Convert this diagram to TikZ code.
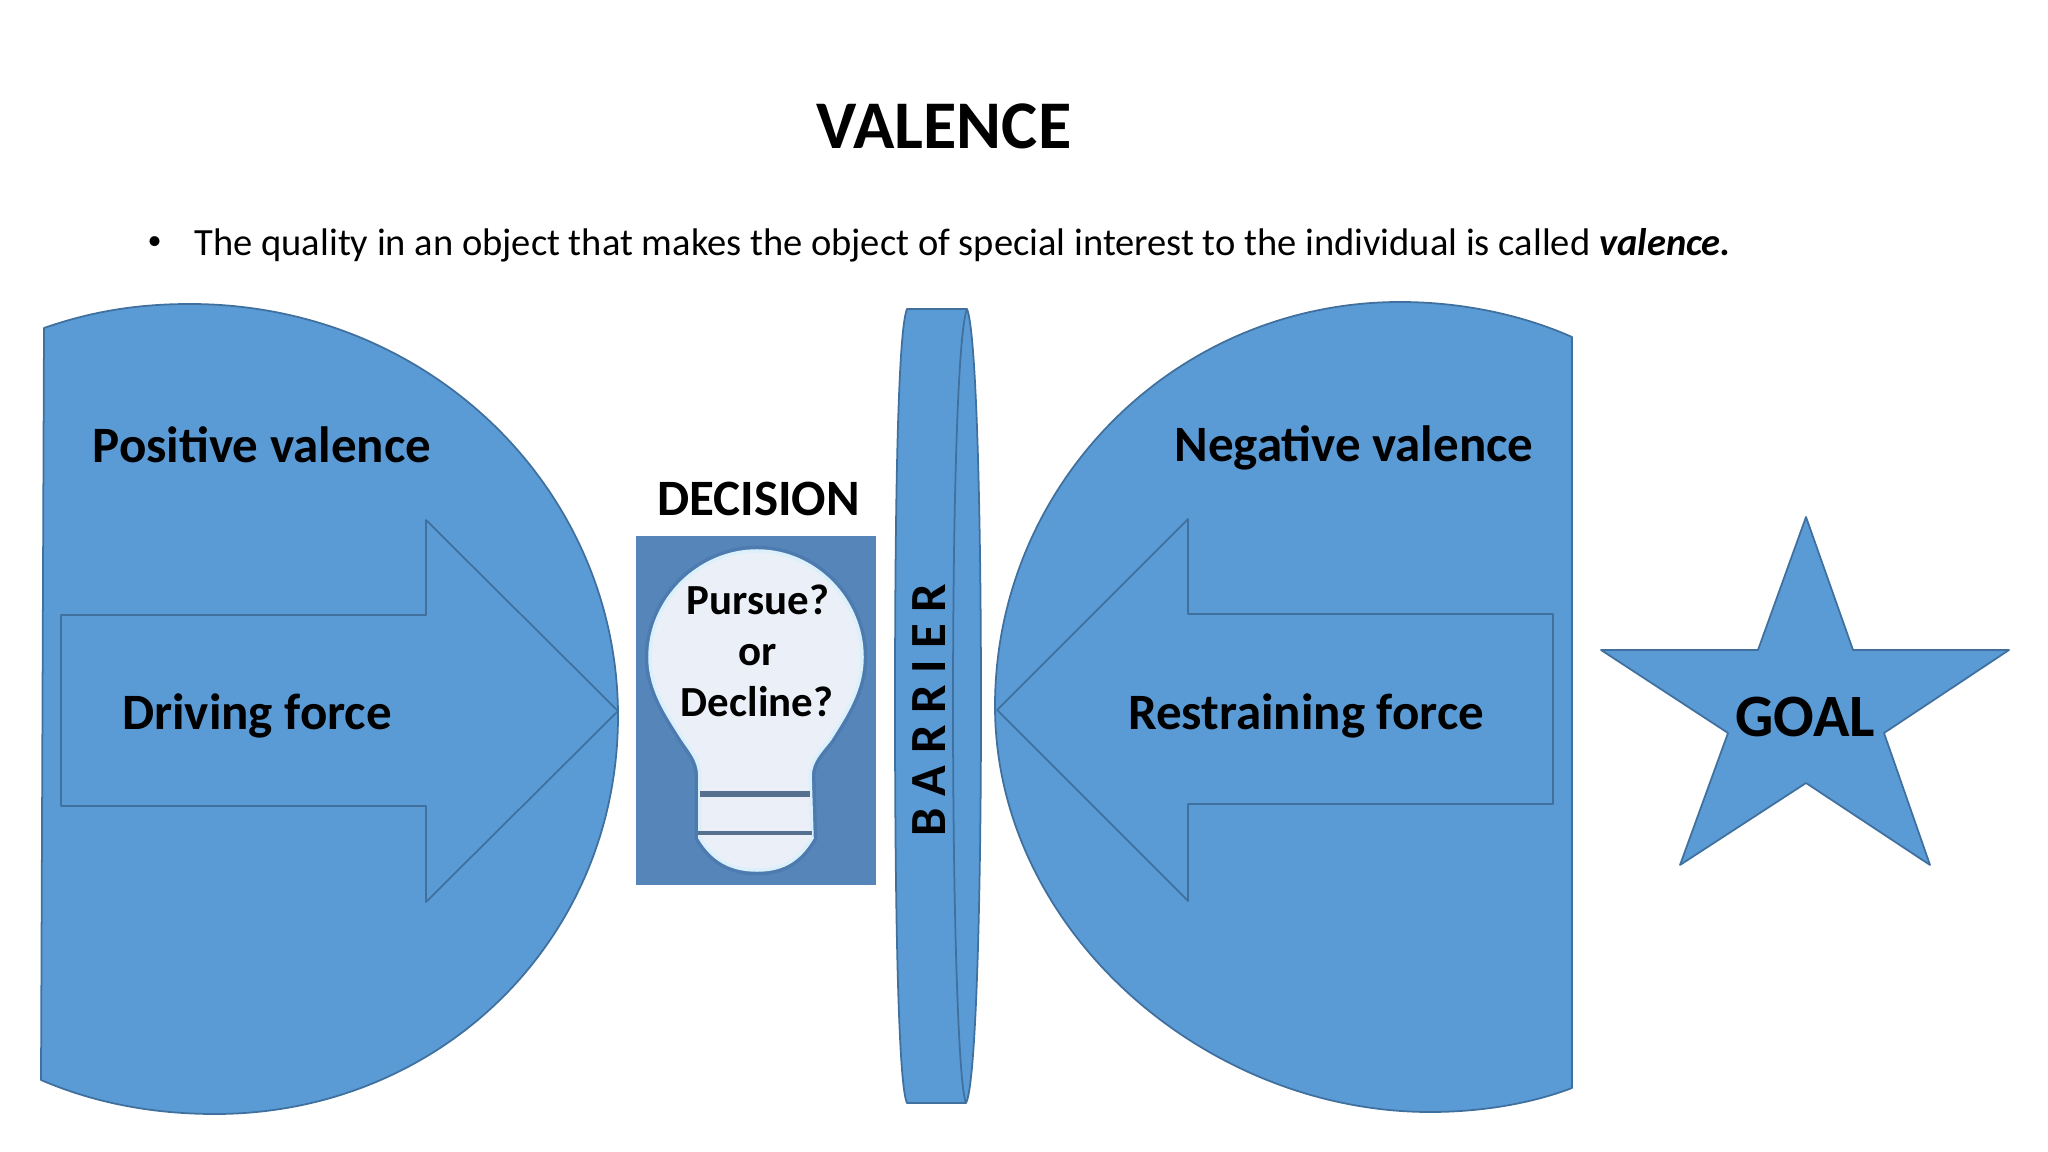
\documentclass[tikz,border=0pt]{standalone}
\usepackage{fontspec}
\setmainfont{Carlito}
\usetikzlibrary{positioning}
\definecolor{shapeblue}{HTML}{5B9BD5}
\definecolor{shapeline}{HTML}{3F709E}
\definecolor{photoblue}{HTML}{5585B9}
\definecolor{photohalo}{HTML}{4D7BB0}
\definecolor{bulbwhite}{HTML}{EBF0F8}
\definecolor{bulbedge}{HTML}{DCF0FC}
\definecolor{bulbline}{HTML}{56718F}

\begin{document}
\begin{tikzpicture}[
x=0.01cm, y=-0.01cm,
blue shape/.style={draw=shapeline, fill=shapeblue, line width=0.5pt, line join=round},
label/.style={inner sep=0pt, font=\fontsize{14.5}{17}\selectfont\bfseries},
small label/.style={inner sep=0pt, font=\fontsize{12.2}{14}\selectfont\bfseries}
]
\useasboundingbox (0,0) rectangle (2048,1152);

% heading
\node[inner sep=0pt, font=\fontsize{19.4}{22}\selectfont\bfseries] (title) at (944,126) {VALENCE};
\node[inner sep=0pt, anchor=west, font=\fontsize{8}{13}\selectfont] (bullet) at (147,243) {•};
\node[inner sep=0pt, anchor=west, font=\fontsize{10.95}{13}\selectfont] (definition) at (194,245) {The quality in an object that makes the object of special interest to the individual is called \textbf{\textit{valence.}}};

% left half circle
\draw[blue shape] (44,328) .. controls (90,312) and (135,304) .. (190,304)
  .. controls (430,304) and (618,490) .. (618,716)
  .. controls (618,940) and (440,1114) .. (215,1114)
  .. controls (150,1114) and (92,1102) .. (41,1080) -- cycle;
\draw[blue shape] (61,615) -- (426,615) -- (426,520) -- (618,711) -- (426,902) -- (426,806) -- (61,806) -- cycle;
\node[label] (positive) at (262,445) {Positive valence};
\node[label] (driving) at (257,716) {Driving force};

% right half circle
\draw[blue shape] (1572,337) .. controls (1520,314) and (1460,302) .. (1400,302)
  .. controls (1175,302) and (995,484) .. (995,706)
  .. controls (995,930) and (1205,1112) .. (1430,1112)
  .. controls (1480,1112) and (1530,1104) .. (1572,1088) -- cycle;
\draw[blue shape] (1553,614) -- (1188,614) -- (1188,519) -- (997,710) -- (1188,901) -- (1188,804) -- (1553,804) -- cycle;
\node[label] (negative) at (1354,448) {Negative valence};
\node[label] (restraining) at (1306,716) {Restraining force};

% picture with the bulb
\node[minimum width=2.4cm, minimum height=3.49cm, inner sep=0pt, fill=photoblue] (photo) at (756,710.5) {};
\node[label, above=5.4pt of photo, xshift=0.7pt] (decision) {DECISION};
\draw[draw=photohalo, line width=3pt] (757,551)
  .. controls (815,551) and (862,600) .. (862,657)
  .. controls (862,690) and (845,715) .. (830,739)
  .. controls (820,752) and (811,760) .. (810,775)
  -- (812,838) .. controls (800,858) and (785,870) .. (757,870)
  .. controls (729,870) and (712,858) .. (700,838)
  -- (700,775) .. controls (699,760) and (692,752) .. (683,739)
  .. controls (668,715) and (650,690) .. (650,657)
  .. controls (650,600) and (699,551) .. (757,551) -- cycle;
\draw[draw=bulbedge, fill=bulbwhite, line width=1pt] (757,551)
  .. controls (815,551) and (862,600) .. (862,657)
  .. controls (862,690) and (845,715) .. (830,739)
  .. controls (820,752) and (811,760) .. (810,775)
  -- (812,838) .. controls (800,858) and (785,870) .. (757,870)
  .. controls (729,870) and (712,858) .. (700,838)
  -- (700,775) .. controls (699,760) and (692,752) .. (683,739)
  .. controls (668,715) and (650,690) .. (650,657)
  .. controls (650,600) and (699,551) .. (757,551) -- cycle;
\draw[bulbline, line width=1.7pt] (700,794) -- (810,794);
\draw[bulbline, line width=1.3pt] (698,833) -- (812,833);
\node[small label] (pursue) at (758,600) {Pursue?};
\node[small label] (orword) at (758,655) {or};
\node[small label] (declinelabel) at (757,702) {Decline?};

% barrier
\draw[blue shape] (907,309) -- (967,309)
  .. controls (976,330) and (981,500) .. (981,706)
  .. controls (981,900) and (976,1085) .. (966,1103)
  -- (907,1103)
  .. controls (898,1085) and (895,900) .. (895,706)
  .. controls (895,500) and (898,330) .. (907,309) -- cycle;
\draw[blue shape] (967,309) .. controls (958,330) and (953,500) .. (953,706) .. controls (953,900) and (958,1085) .. (966,1103);
\node[label, rotate=90, font=\fontsize{14.4}{16}\selectfont\bfseries] (barrier) at (929,710) {B\hspace{3.3pt}A\hspace{3.3pt}R\hspace{3.3pt}R\hspace{3.3pt}I\hspace{3.3pt}E\hspace{3.3pt}R};

% goal
\draw[blue shape] (1806,517) -- (1853,650) -- (2009,650) -- (1884,733) -- (1930,865) -- (1806,783) -- (1680,865) -- (1728,733) -- (1601,650) -- (1758,650) -- cycle;
\node[inner sep=0pt, font=\fontsize{17.1}{19}\selectfont\bfseries] (goal) at (1805,717) {GOAL};

\end{tikzpicture}
\end{document}
